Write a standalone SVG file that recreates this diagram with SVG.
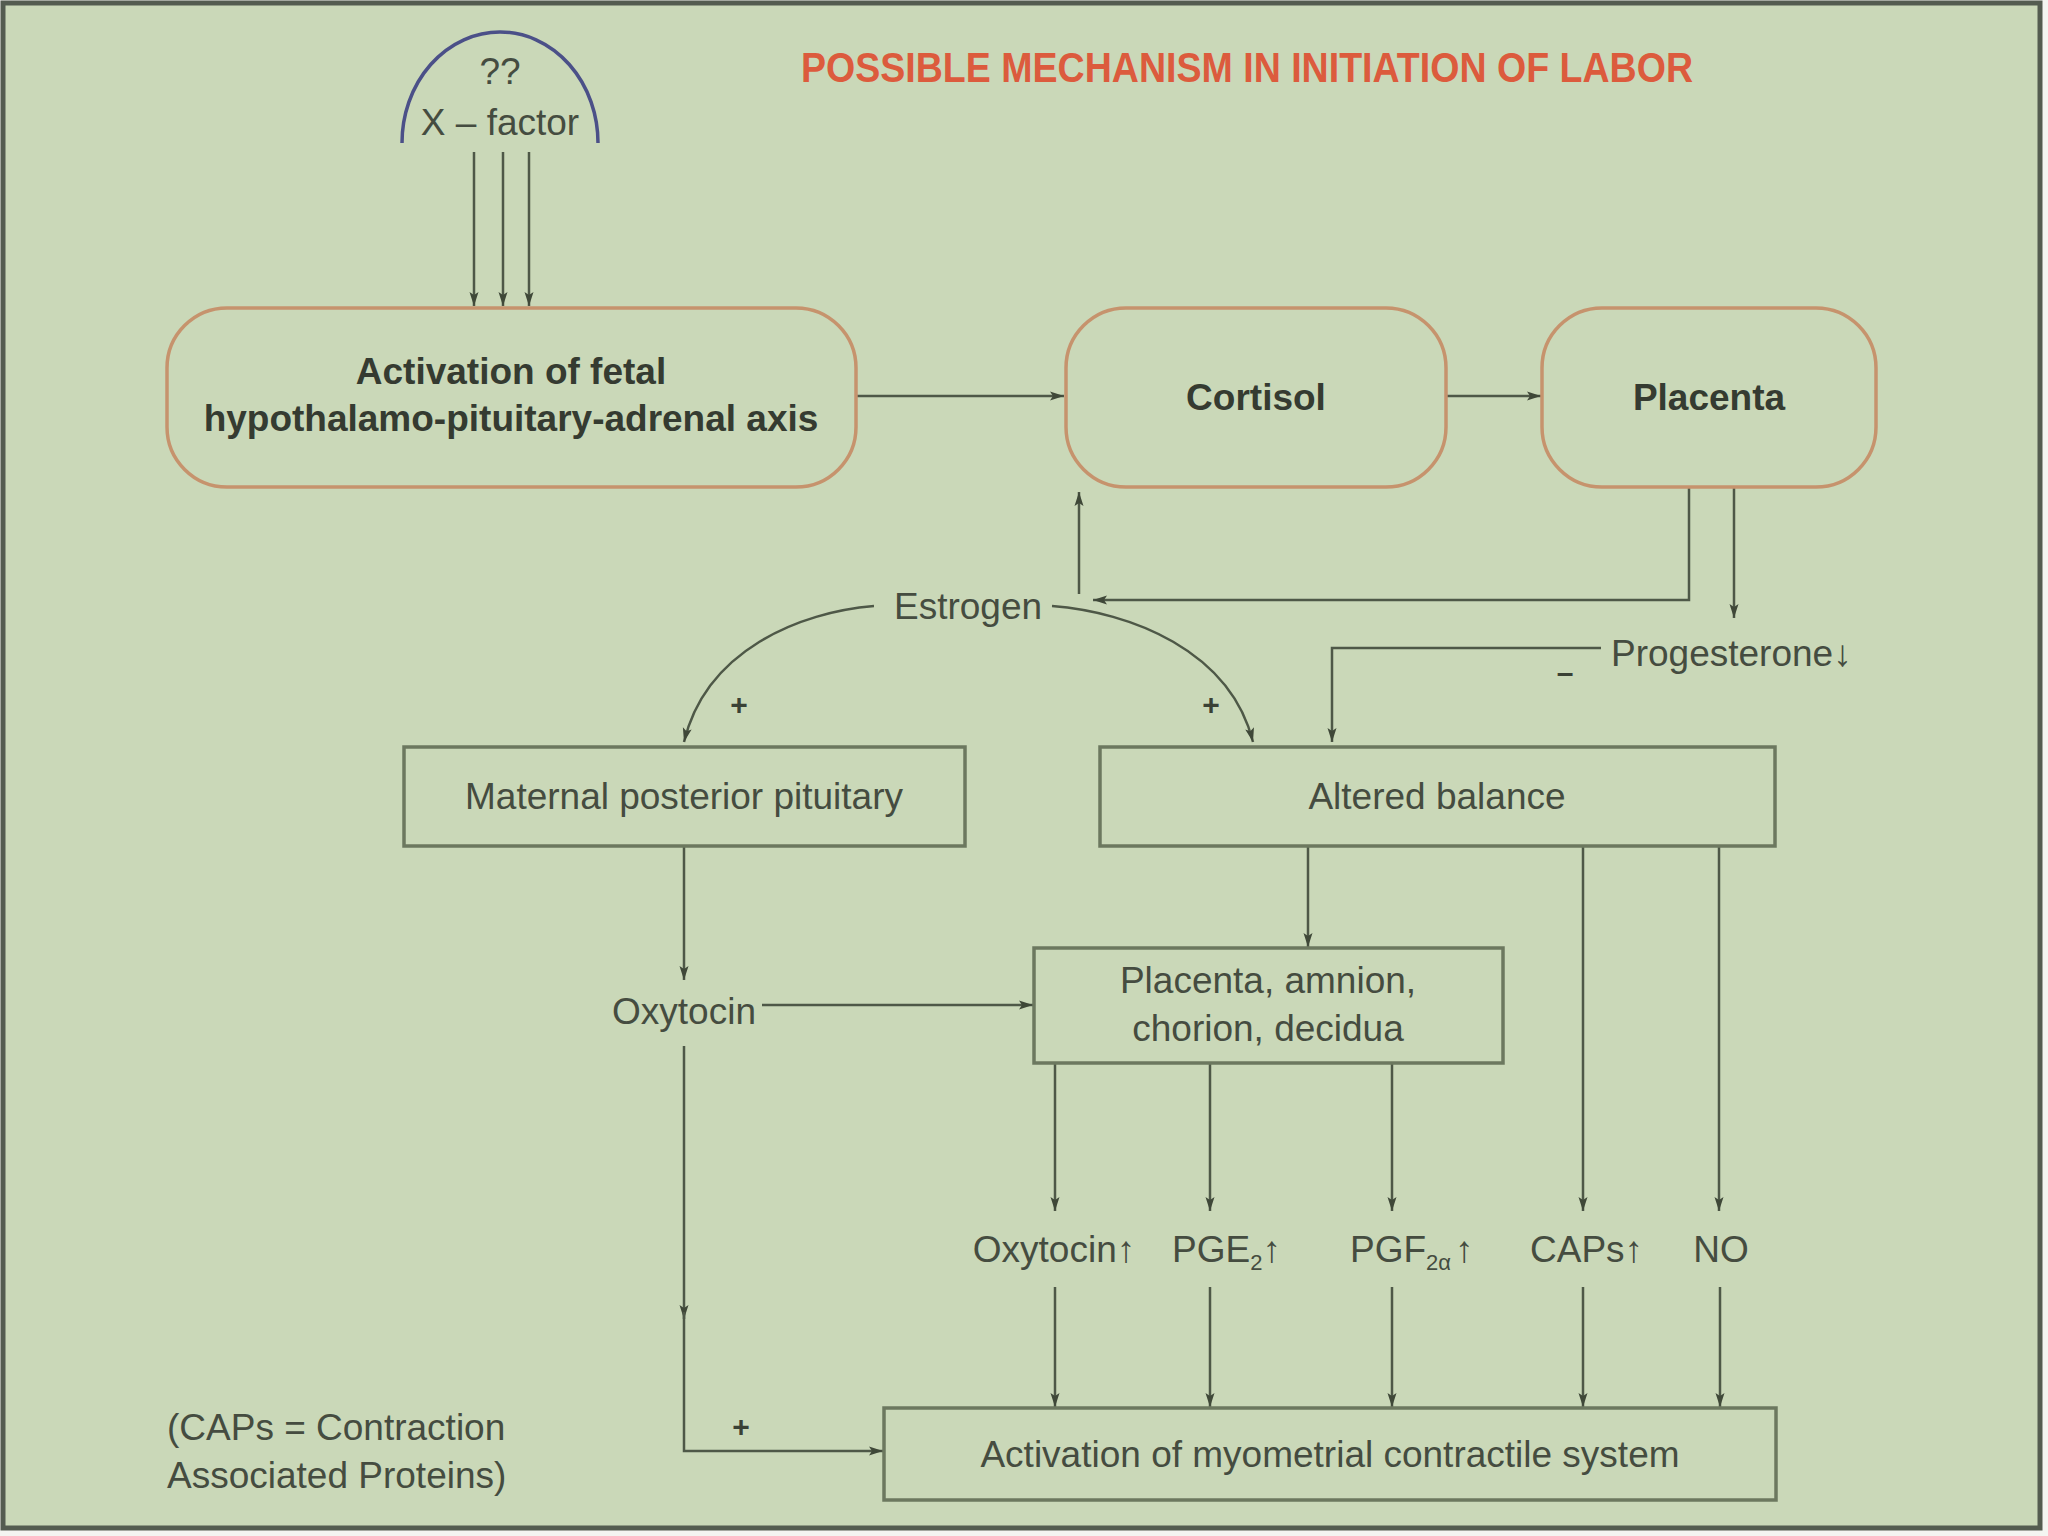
<svg xmlns="http://www.w3.org/2000/svg" width="2048" height="1536" viewBox="0 0 2048 1536">
  <defs>
    <marker id="arr" markerUnits="userSpaceOnUse" markerWidth="14" markerHeight="10" refX="14" refY="5" orient="auto">
      <path d="M0,0.5 L14,5 L0,9.5 L3,5 Z" fill="#3f4838"/>
    </marker>
    <style>
      .bg { fill: #cad8b8; }
      .frame { fill: none; stroke: #545c50; stroke-width: 5; }
      .pill { fill: #cad8b8; stroke: #c6936d; stroke-width: 3.5; }
      .rbox { fill: #cad8b8; stroke: #6c785f; stroke-width: 3.5; }
      .ln { fill: none; stroke: #4e5847; stroke-width: 2.5; }
      .arr { marker-end: url(#arr); }
      .t { font-family: "Liberation Sans", Arial, sans-serif; font-size: 37px; fill: #454c40; }
      .b { font-family: "Liberation Sans", Arial, sans-serif; font-size: 37px; font-weight: bold; fill: #353b31; }
      .pm { font-family: "Liberation Sans", Arial, sans-serif; font-size: 30px; font-weight: bold; fill: #3a4135; }
      .c { text-anchor: middle; }
      .title { font-family: "Liberation Sans", Arial, sans-serif; font-size: 42px; font-weight: bold; fill: #dc5b3d; }
    </style>
  </defs>

  <rect x="0" y="0" width="2048" height="1536" fill="#f4f5f1"/>
  <rect class="bg" x="3" y="3" width="2037" height="1525"/>
  <rect class="frame" x="3" y="3" width="2037" height="1525"/>

  <text id="title" class="title" x="801" y="82" textLength="892" lengthAdjust="spacingAndGlyphs">POSSIBLE MECHANISM IN INITIATION OF LABOR</text>

  <g id="xfactor">
    <path d="M402,143 A98,111 0 0 1 598,143" fill="none" stroke="#4b5088" stroke-width="3.5"/>
    <text class="t c" x="500" y="84" font-size="32">??</text>
    <text class="t c" x="500" y="135">X – factor</text>
  </g>

  <g id="connectors">
    <path class="ln arr" d="M474,152 V306"/>
    <path class="ln arr" d="M503,152 V306"/>
    <path class="ln arr" d="M529,152 V306"/>
    <path class="ln arr" d="M857,396 H1064"/>
    <path class="ln arr" d="M1447,396 H1541"/>
    <path class="ln arr" d="M1689,488 V600 H1093"/>
    <path class="ln arr" d="M1079,594 V492"/>
    <path class="ln arr" d="M1734,488 V618"/>
    <path class="ln arr" d="M1601,648 H1332 V742"/>
    <path class="ln arr" d="M874,606 C800,612 706,650 684,742"/>
    <path class="ln arr" d="M1052,606 C1130,612 1230,650 1253,742"/>
    <path class="ln arr" d="M684,847 V980"/>
    <path class="ln arr" d="M762,1005 H1033"/>
    <path class="ln arr" d="M684,1046 V1319"/>
    <path class="ln arr" d="M684,1312 V1451 H883"/>
    <path class="ln arr" d="M1308,847 V947"/>
    <path class="ln arr" d="M1583,847 V1211"/>
    <path class="ln arr" d="M1719,847 V1211"/>
    <path class="ln arr" d="M1055,1064 V1211"/>
    <path class="ln arr" d="M1210,1064 V1211"/>
    <path class="ln arr" d="M1392,1064 V1211"/>
    <path class="ln arr" d="M1055,1287 V1407"/>
    <path class="ln arr" d="M1210,1287 V1407"/>
    <path class="ln arr" d="M1392,1287 V1407"/>
    <path class="ln arr" d="M1583,1287 V1407"/>
    <path class="ln arr" d="M1720,1287 V1407"/>
  </g>

  <g id="hpa">
    <rect class="pill" x="167" y="308" width="689" height="179" rx="60" ry="60"/>
    <text class="b c" x="511" y="384">Activation of fetal</text>
    <text class="b c" x="511" y="431">hypothalamo-pituitary-adrenal axis</text>
  </g>

  <g id="cortisol">
    <rect class="pill" x="1066" y="308" width="380" height="179" rx="60" ry="60"/>
    <text class="b c" x="1256" y="410">Cortisol</text>
  </g>

  <g id="placenta">
    <rect class="pill" x="1542" y="308" width="334" height="179" rx="60" ry="60"/>
    <text class="b c" x="1709" y="410">Placenta</text>
  </g>

  <g id="estrogen">
    <text class="t c" x="968" y="619">Estrogen</text>
  </g>

  <g id="progesterone">
    <text class="t" x="1611" y="666">Progesterone↓</text>
    <text class="pm c" x="1565" y="683">–</text>
  </g>

  <g id="signs">
    <text class="pm c" x="739" y="715">+</text>
    <text class="pm c" x="1211" y="715">+</text>
    <text class="pm c" x="741" y="1437">+</text>
  </g>

  <g id="maternal">
    <rect class="rbox" x="404" y="747" width="561" height="99"/>
    <text class="t c" x="684" y="809">Maternal posterior pituitary</text>
  </g>

  <g id="altered">
    <rect class="rbox" x="1100" y="747" width="675" height="99"/>
    <text class="t c" x="1437" y="809">Altered balance</text>
  </g>

  <g id="oxytocin">
    <text class="t c" x="684" y="1024">Oxytocin</text>
  </g>

  <g id="tissues">
    <rect class="rbox" x="1034" y="948" width="469" height="115"/>
    <text class="t c" x="1268" y="993">Placenta, amnion,</text>
    <text class="t c" x="1268" y="1041">chorion, decidua</text>
  </g>

  <g id="oxytocin-up">
    <text class="t c" x="1054" y="1262">Oxytocin↑</text>
  </g>
  <g id="pge2">
    <text class="t" x="1172" y="1262">PGE<tspan font-size="22" dy="8">2</tspan><tspan dy="-8">↑</tspan></text>
  </g>
  <g id="pgf2a">
    <text class="t" x="1350" y="1262">PGF<tspan font-size="22" dy="8">2α</tspan><tspan dx="4" dy="-8">↑</tspan></text>
  </g>
  <g id="caps">
    <text class="t" x="1530" y="1262">CAPs↑</text>
  </g>
  <g id="no">
    <text class="t c" x="1721" y="1262">NO</text>
  </g>

  <g id="myometrial">
    <rect class="rbox" x="884" y="1408" width="892" height="92"/>
    <text class="t c" x="1330" y="1467">Activation of myometrial contractile system</text>
  </g>

  <g id="legend">
    <text class="t" x="167" y="1440">(CAPs = Contraction</text>
    <text class="t" x="167" y="1488">Associated Proteins)</text>
  </g>
</svg>
